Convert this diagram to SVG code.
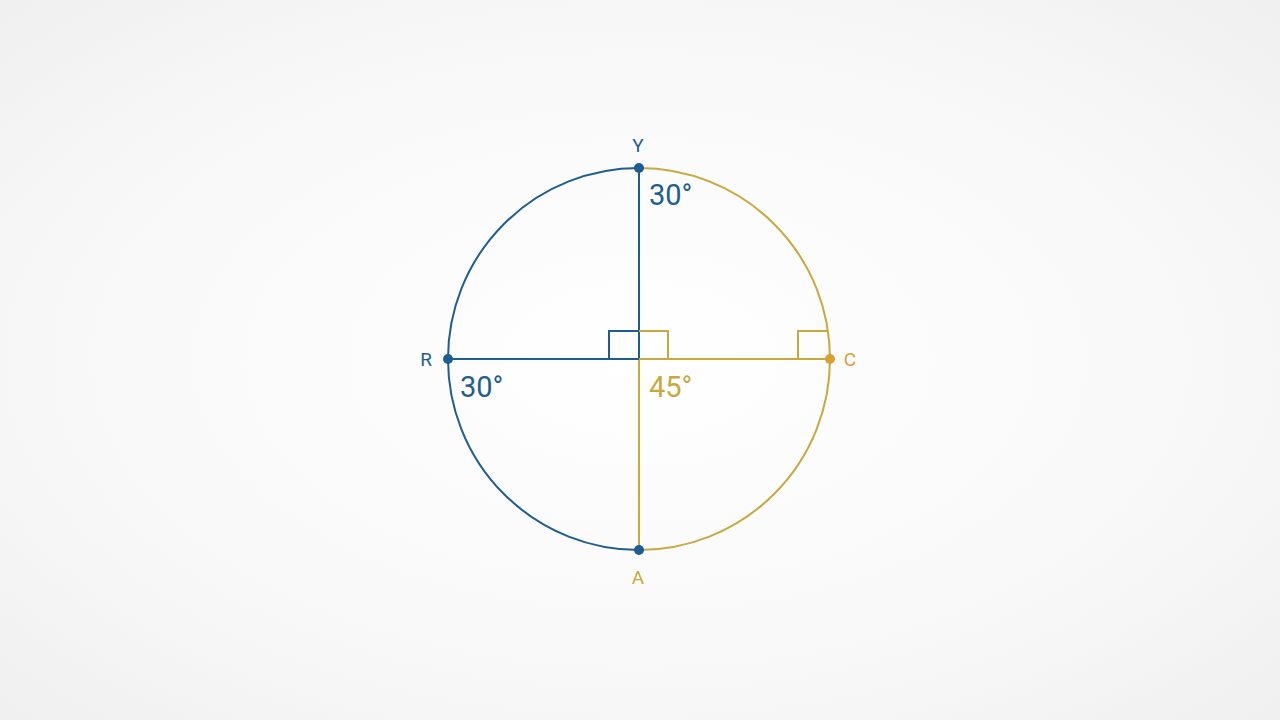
<svg xmlns="http://www.w3.org/2000/svg" width="1280" height="720" viewBox="0 0 1280 720">
<defs>
<radialGradient id="bg" cx="50%" cy="50%" r="75%">
<stop offset="0" stop-color="#ffffff"/>
<stop offset="0.6" stop-color="#f8f8f8"/>
<stop offset="1" stop-color="#eeeeee"/>
</radialGradient>
<style>
.b{stroke:#1e5e8e;stroke-width:2;fill:none}
.g{stroke:#c9a83e;stroke-width:2;fill:none}
.t{font-family:Roboto,"Liberation Sans",Arial,sans-serif;font-weight:normal}
.tb{fill:#1e5e8e}
.tg{fill:#c9a83e}
</style>
</defs>
<rect width="1280" height="720" fill="url(#bg)"/>
<g id="circle">
<path class="b" d="M639,168 A191,191 0 0 0 639,550"/>
<path class="g" d="M639,168 A191,191 0 0 1 639,550"/>
</g>
<g id="connectors">
<line class="b" x1="639" y1="168" x2="639" y2="359"/>
<line class="g" x1="639" y1="359" x2="639" y2="550"/>
<line class="b" x1="448" y1="359" x2="639" y2="359"/>
<line class="g" x1="639" y1="359" x2="830" y2="359"/>
<polyline class="b" points="609,359 609,331 639,331"/>
<polyline class="g" points="639,331 668,331 668,359"/>
<polyline class="g" points="798,359 798,331 827,331"/>
</g>
<g id="Y">
<circle cx="639" cy="168" r="5" fill="#1e5e8e"/>
<text class="t tb" x="638" y="152" font-size="19" text-anchor="middle">Y</text>
</g>
<g id="R">
<circle cx="448" cy="359" r="5" fill="#1e5e8e"/>
<text class="t tb" x="426" y="366" font-size="19" text-anchor="middle">R</text>
</g>
<g id="A">
<circle cx="639" cy="550" r="5" fill="#1e5e8e"/>
<text class="t tg" x="638" y="584" font-size="19" text-anchor="middle">A</text>
</g>
<g id="C">
<circle cx="830" cy="359" r="5" fill="#d9a034"/>
<text class="t" fill="#d9a034" x="850" y="366" font-size="19" text-anchor="middle">C</text>
</g>
<g id="angles">
<text class="t tb" x="649" y="205" font-size="29">30°</text>
<text class="t tb" x="460" y="397" font-size="29">30°</text>
<text class="t tg" x="649" y="397" font-size="29">45°</text>
</g>
</svg>
